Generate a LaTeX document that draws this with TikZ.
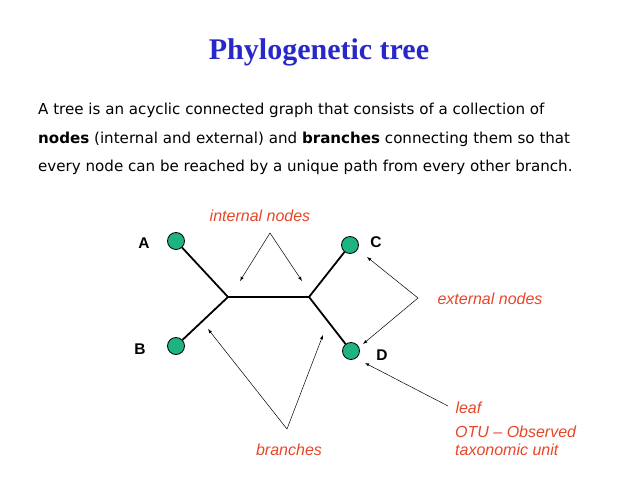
\documentclass[tikz,border=0pt]{standalone}
\usepackage{fontspec}
\setmainfont{Liberation Sans}
\newfontfamily\titlefont{Liberation Serif}
\newfontfamily\bodyfont{DejaVu Sans}
\definecolor{nodegreen}{RGB}{30,180,130}
\definecolor{labred}{RGB}{232,70,40}
\definecolor{titleblue}{RGB}{40,40,200}
\begin{document}
\begin{tikzpicture}[x=1pt,y=-1pt,
  leafnode/.style={circle,draw=black,fill=nodegreen,minimum size=17pt,inner sep=0pt,line width=0.8pt},
  inode/.style={coordinate},
  branch/.style={line width=1.8pt},
  pointer/.style={-latex,line width=0.5pt},
  lab/.style={font=\fontsize{16}{18}\selectfont\itshape,text=labred},
  letter/.style={font=\fontsize{15.5}{18}\selectfont\bfseries}]
\useasboundingbox (0,0) rectangle (638,478);
\node[font=\titlefont\fontsize{30}{32}\selectfont\bfseries,text=titleblue] (title) at (319,52) {Phylogenetic tree};
\node[font=\bodyfont\fontsize{15.1}{28.5}\selectfont,align=left,anchor=north west,inner sep=0pt] (body) at (38,103)
{A tree is an acyclic connected graph that consists of a collection of\\
\textbf{nodes} (internal and external) and \textbf{branches} connecting them so that\\
every node can be reached by a unique path from every other branch.};
\node[leafnode] (A) at (176,241) {};
\node[leafnode] (B) at (176,346) {};
\node[leafnode] (C) at (350,245) {};
\node[leafnode] (D) at (351,351) {};
\node[inode] (I1) at (228,297) {};
\node[inode] (I2) at (309,297) {};
\draw[branch] (A) -- (I1) -- (B);
\draw[branch] (I1) -- (I2);
\draw[branch] (C) -- (I2) -- (D);
\node[letter] (la) at (144,243) {A};
\node[letter] (lb) at (140,349) {B};
\node[letter] (lc) at (376,242) {C};
\node[letter] (ld) at (382,355) {D};
\node[lab] (int) at (260,216) {internal nodes};
\coordinate (p1) at (270,233);
\coordinate (t1) at (240,281);
\coordinate (t2) at (302,281);
\draw[pointer] (p1) -- (t1);
\draw[pointer] (p1) -- (t2);
\node[lab] (ext) at (490,299) {external nodes};
\coordinate (p2) at (418,298);
\coordinate (t3) at (367,257);
\coordinate (t4) at (363,344);
\draw[pointer] (p2) -- (t3);
\draw[pointer] (p2) -- (t4);
\node[lab] (br) at (289,450) {branches};
\coordinate (p3) at (287,429);
\coordinate (t5) at (208,329);
\coordinate (t6) at (323,335);
\draw[pointer] (p3) -- (t5);
\draw[pointer] (p3) -- (t6);
\node[lab,anchor=west] (leaf) at (452,408) {leaf};
\coordinate (p4) at (448,406);
\coordinate (t7) at (365,363);
\draw[pointer] (p4) -- (t7);
\node[lab,anchor=north west,align=left,inner sep=0pt] (otu) at (455,426) {OTU -- Observed\\taxonomic unit};
\end{tikzpicture}
\end{document}
